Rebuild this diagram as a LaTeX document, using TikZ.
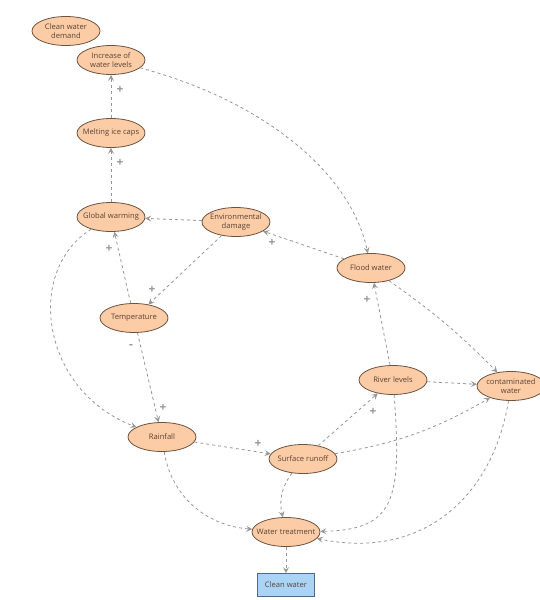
\documentclass[tikz,border=0pt]{standalone}
\usepackage{fontspec}
\setmainfont{Open Sans}
\usetikzlibrary{arrows.meta,shapes.geometric}
\definecolor{varFill}{RGB}{252,204,166}
\definecolor{varEdge}{RGB}{110,82,64}
\definecolor{txtBrown}{RGB}{90,66,52}
\definecolor{linkGray}{RGB}{150,150,150}
\definecolor{outFill}{RGB}{170,212,246}
\definecolor{outEdge}{RGB}{78,108,138}

\begin{document}
\begin{tikzpicture}[
  x=1pt, y=-1pt,
  font=\fontsize{7.6pt}{9.5pt}\selectfont,
  var/.style={
    ellipse,
    draw=varEdge,
    fill=varFill,
    text=txtBrown,
    line width=0.8pt,
    inner xsep=-6pt,
    inner ysep=0pt,
    minimum width=68pt,
    minimum height=29pt,
    align=center,
  },
  outbox/.style={
    rectangle,
    draw=outEdge,
    fill=outFill,
    text=txtBrown,
    line width=0.8pt,
    minimum width=57pt,
    minimum height=23pt,
  },
  link/.style={
    -{Stealth[length=6pt,width=6pt,inset=2.5pt]},
    linkGray,
    dashed,
    line width=0.8pt,
  },
  sign/.style={
    text=linkGray,
    font=\bfseries\large,
    inner sep=0pt,
  },
]

  \useasboundingbox (0,0) rectangle (539,600);

  \node[var] (demand) at (66,31) {Clean water\\demand};
  \node[var] (inc) at (111,60) {Increase of\\water levels};
  \node[var] (melt) at (111,133) {Melting ice caps};
  \node[var] (gw) at (111,217) {Global warming};
  \node[var] (env) at (236,222) {Environmental\\damage};
  \node[var] (temp) at (134,318) {Temperature};
  \node[var] (flood) at (371,268) {Flood water};
  \node[var] (river) at (393,380) {River levels};
  \node[var] (cont) at (511,386) {contaminated\\water};
  \node[var] (rain) at (162,437) {Rainfall};
  \node[var] (runoff) at (303,459) {Surface runoff};
  \node[var] (wt) at (286,532) {Water treatment};
  \node[outbox] (clean) at (286,585) {Clean water};

  % polarity signs
  \node[sign] at (120,90) {+};
  \node[sign] at (120,163) {+};
  \node[sign] at (272,243) {+};
  \node[sign] at (152,290) {+};
  \node[sign] at (109,249) {+};
  \node[sign] at (131,347) {-};
  \node[sign] at (163,408) {+};
  \node[sign] at (258,444) {+};
  \node[sign] at (373,412) {+};
  \node[sign] at (367,300) {+};

  \draw[link] (melt) -- (inc);
  \draw[link] (gw) -- (melt);
  \draw[link] (inc) .. controls (260,100) and (350,170) .. (flood);
  \draw[link] (env) -- (gw);
  \draw[link] (flood) -- (env);
  \draw[link] (env) -- (temp);
  \draw[link] (temp) -- (gw);
  \draw[link] (temp) -- (rain);
  \draw[link] (gw) .. controls (25,270) and (40,390) .. (rain);
  \draw[link] (rain) -- (runoff);
  \draw[link] (rain) .. controls (170,490) and (200,525) .. (wt);
  \draw[link] (runoff) -- (river);
  \draw[link] (runoff) to[bend right=10] (cont);
  \draw[link] (runoff) to[bend right=25] (wt);
  \draw[link] (river) -- (flood);
  \draw[link] (river) -- (cont);
  \draw[link] (flood) to[bend left=5] (cont);
  \draw[link] (river) .. controls (402,500) and (395,530) .. (wt);
  \draw[link] (cont) .. controls (492,500) and (420,560) .. (wt);
  \draw[link] (wt) -- (clean);

\end{tikzpicture}
\end{document}
